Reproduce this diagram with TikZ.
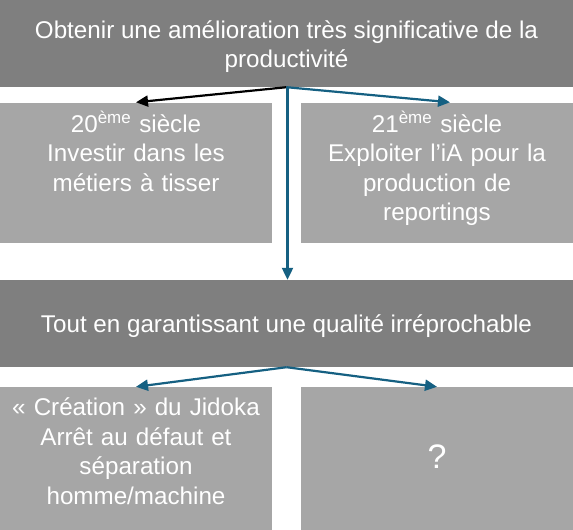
\documentclass[tikz,border=0pt]{standalone}
\usepackage{fontspec}
\setmainfont{Liberation Sans}
\usetikzlibrary{arrows.meta}
\definecolor{darkbox}{HTML}{7F7F7F}
\definecolor{lightbox}{HTML}{A6A6A6}
\definecolor{linkblue}{HTML}{156082}
\begin{document}
\begin{tikzpicture}[x=1pt,y=-1pt,
    box/.style={inner sep=0pt, draw=none},
    wide/.style={box, fill=darkbox, minimum width=573pt, minimum height=87pt},
    half/.style={box, fill=lightbox, minimum width=272pt, minimum height=140pt},
    txt/.style={inner sep=0pt, text=white, align=center, font=\fontsize{24.2}{29.5}\selectfont},
    toptxt/.style={txt, text width=270pt, anchor=base},
    link/.style={draw=linkblue, line width=2.2pt, -{Triangle[length=12pt,width=11pt]}}]
    \useasboundingbox[fill=white] (0,0) rectangle (573,530);
    % les deux bandeaux
    \node[wide] (goal) at (286.5,43.5) {};
    \node[wide] (quality) at (286.5,323.5) {};
    \node[txt] (tgoal) at ([yshift=-3pt]goal.center) {Obtenir une amélioration très significative de la\\productivité};
    \node[txt] (tquality) at ([yshift=-3pt]quality.center) {Tout en garantissant une qualité irréprochable};
    % les quatre cases
    \node[half] (c20) at (136,172.5) {};
    \node[half] (c21) at (437,172.5) {};
    \node[half, minimum height=143pt] (jidoka) at (136,458.5) {};
    \node[half, minimum height=143pt] (unknown) at (437,458.5) {};
    \node[toptxt] (t20) at ([yshift=-30pt]c20.north) {20\textsuperscript{ème} siècle\\Investir dans les\\métiers à tisser};
    \node[toptxt] (t21) at ([yshift=-30pt]c21.north) {21\textsuperscript{ème} siècle\\Exploiter l’iA pour la\\production de\\reportings};
    \node[toptxt] (tjid) at ([yshift=-29pt]jidoka.north) {« Création » du Jidoka\\Arrêt au défaut et\\séparation\\homme/machine};
    \node[txt, font=\fontsize{34}{40}\selectfont] (tunk) at ([yshift=2pt]unknown.center) {?};
    % fleches
    \draw[link, draw=black] (goal.south) -- (c20.north);
    \draw[link] (goal.south) -- ([xshift=13pt]c21.north);
    \draw[link] ([xshift=1pt]goal.south) -- ([xshift=1pt]quality.north);
    \draw[link] (quality.south) -- (jidoka.north);
    \draw[link] (quality.south) -- (unknown.north);
\end{tikzpicture}
\end{document}
